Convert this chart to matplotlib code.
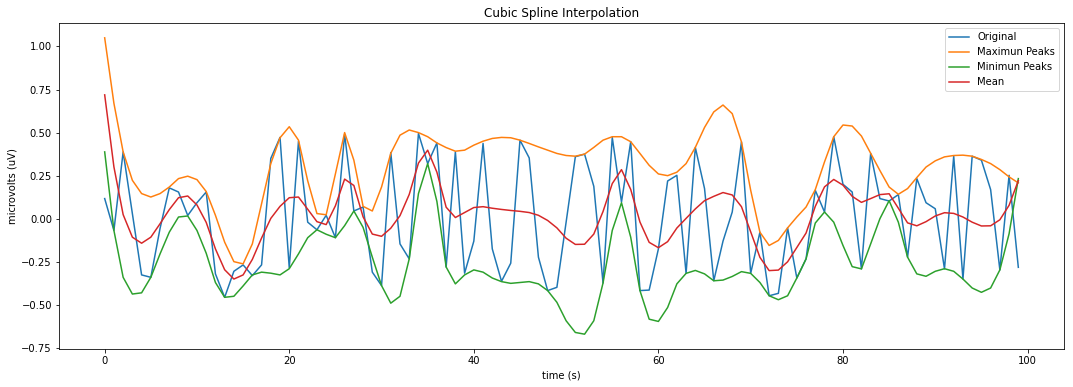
import numpy as np
import matplotlib
matplotlib.use('Agg')
import matplotlib.pyplot as plt

# sample index (time axis)
t = list(range(100))

original = [0.117, -0.068, 0.388, 0.03, -0.326, -0.34, -0.056, 0.179, 0.155, 0.019,
            0.093, 0.155, -0.32, -0.456, -0.305, -0.268, -0.33, -0.268, 0.35, 0.472,
            -0.285, 0.45, -0.02, -0.064, 0.02, -0.11, 0.49, 0.045, 0.068, -0.31,
            -0.388, 0.384, -0.146, -0.233, 0.495, 0.32, 0.44, -0.28, 0.388, -0.316,
            -0.13, 0.437, -0.175, -0.363, -0.258, 0.456, 0.353, -0.223, -0.417, -0.398,
            -0.02, 0.36, 0.375, 0.188, -0.373, 0.472, 0.097, 0.447, -0.417, -0.414,
            -0.175, 0.219, 0.252, -0.317, 0.414, 0.175, -0.36, -0.13, 0.039, 0.446,
            -0.317, -0.078, -0.447, -0.433, -0.053, -0.344, -0.233, 0.165, 0.039, 0.476,
            0.2, 0.155, -0.291, 0.379, 0.117, 0.103, 0.14, -0.223, 0.233, 0.093,
            0.058, -0.291, 0.363, -0.35, 0.363, 0.34, 0.169, -0.297, 0.252, -0.282]

max_peaks = [1.05, 0.67, 0.388, 0.223, 0.146, 0.126, 0.146, 0.184, 0.233, 0.247,
             0.227, 0.158, 0.02, -0.136, -0.249, -0.262, -0.146, 0.087, 0.32, 0.47,
             0.534, 0.456, 0.22, 0.03, 0.023, 0.26, 0.5, 0.34, 0.072, 0.045,
             0.184, 0.38, 0.485, 0.515, 0.5, 0.476, 0.44, 0.413, 0.392, 0.398,
             0.427, 0.45, 0.466, 0.472, 0.47, 0.456, 0.437, 0.417, 0.398, 0.379,
             0.367, 0.363, 0.375, 0.414, 0.456, 0.476, 0.476, 0.447, 0.379, 0.31,
             0.26, 0.25, 0.27, 0.32, 0.414, 0.53, 0.62, 0.66, 0.61, 0.446,
             0.165, -0.078, -0.155, -0.126, -0.053, 0.01, 0.068, 0.169, 0.33, 0.476,
             0.544, 0.538, 0.48, 0.38, 0.28, 0.184, 0.142, 0.175, 0.239, 0.3,
             0.336, 0.359, 0.367, 0.369, 0.363, 0.344, 0.32, 0.285, 0.243, 0.208]

min_peaks = [0.388, -0.068, -0.34, -0.437, -0.43, -0.34, -0.204, -0.078, 0.01, 0.016,
             -0.068, -0.2, -0.37, -0.456, -0.45, -0.39, -0.326, -0.31, -0.316, -0.326,
             -0.29, -0.204, -0.11, -0.064, -0.09, -0.11, -0.04, 0.045, -0.05, -0.223,
             -0.388, -0.49, -0.45, -0.233, 0.146, 0.32, 0.1, -0.28, -0.378, -0.326,
             -0.297, -0.31, -0.344, -0.365, -0.375, -0.37, -0.365, -0.378, -0.417, -0.485,
             -0.592, -0.66, -0.67, -0.592, -0.373, -0.068, 0.093, -0.107, -0.417, -0.583,
             -0.596, -0.515, -0.378, -0.317, -0.3, -0.32, -0.36, -0.356, -0.335, -0.307,
             -0.317, -0.37, -0.447, -0.47, -0.447, -0.344, -0.233, -0.025, 0.039, -0.02,
             -0.155, -0.278, -0.291, -0.146, 0.0, 0.105, -0.02, -0.223, -0.32, -0.334,
             -0.305, -0.29, -0.305, -0.35, -0.402, -0.427, -0.402, -0.297, -0.087, 0.233]

mean_env = [0.719, 0.301, 0.024, -0.107, -0.142, -0.107, -0.029, 0.053, 0.122, 0.132,
            0.080, -0.021, -0.175, -0.296, -0.350, -0.326, -0.236, -0.112, 0.002, 0.072,
            0.122, 0.126, 0.055, -0.017, -0.034, 0.075, 0.230, 0.193, 0.011, -0.089,
            -0.102, -0.055, 0.018, 0.141, 0.323, 0.398, 0.270, 0.067, 0.007, 0.036,
            0.065, 0.070, 0.061, 0.054, 0.048, 0.043, 0.036, 0.020, -0.010, -0.053,
            -0.113, -0.149, -0.148, -0.089, 0.042, 0.204, 0.285, 0.170, -0.019, -0.137,
            -0.168, -0.133, -0.054, 0.002, 0.057, 0.105, 0.130, 0.152, 0.138, 0.070,
            -0.076, -0.224, -0.301, -0.298, -0.250, -0.167, -0.083, 0.072, 0.185, 0.228,
            0.195, 0.130, 0.095, 0.117, 0.140, 0.145, 0.061, -0.024, -0.041, -0.017,
            0.016, 0.035, 0.031, 0.010, -0.020, -0.042, -0.041, -0.006, 0.078, 0.221]

fig = plt.figure(figsize=(1073/72, 387/72), dpi=72)
ax = fig.add_axes([59/1073, 1-349/387, 1005/1073, 326/387])
ax.plot(t, original, label='Original')
ax.plot(t, max_peaks, label='Maximun Peaks')
ax.plot(t, min_peaks, label='Minimun Peaks')
ax.plot(t, mean_env, label='Mean')
ax.set_title('Cubic Spline Interpolation')
ax.set_xlabel('time (s)')
ax.set_ylabel('microvolts (uV)')
ax.legend(loc='upper right')
fig.savefig('out.png', dpi=72)
